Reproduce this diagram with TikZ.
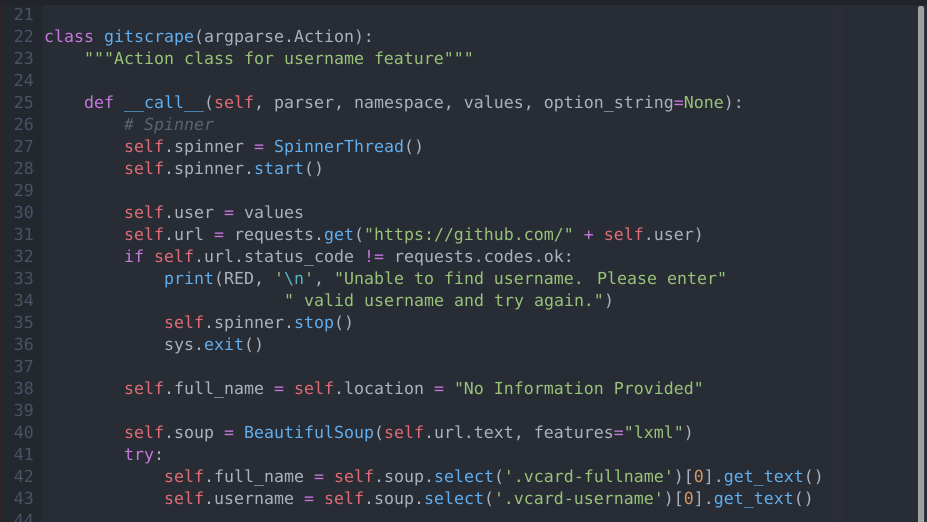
\documentclass[tikz,border=0pt]{standalone}
\usepackage{fontspec}
\newfontfamily\code{DejaVu Sans Mono}
\definecolor{bg}{HTML}{282C34}
\definecolor{gut}{HTML}{23272E}
\definecolor{lnum}{HTML}{4B5263}
\definecolor{fg}{HTML}{ABB2BF}
\definecolor{ckw}{HTML}{C678DD}
\definecolor{cfn}{HTML}{61AFEF}
\definecolor{cstr}{HTML}{98C379}
\definecolor{cself}{HTML}{E06C75}
\definecolor{ccm}{HTML}{5C6370}
\definecolor{cnum}{HTML}{D19A66}
\definecolor{ccy}{HTML}{56B6C2}
\definecolor{cedge}{HTML}{2C2227}
\definecolor{ctop}{HTML}{212429}
\definecolor{cwrap}{HTML}{2D2D38}
\definecolor{cscroll}{HTML}{A0A0A0}
\newcommand\kw[1]{\textcolor{ckw}{#1}}
\newcommand\fn[1]{\textcolor{cfn}{#1}}
\newcommand\st[1]{\textcolor{cstr}{#1}}
\newcommand\sv[1]{\textcolor{cself}{#1}}
\newcommand\op[1]{\textcolor{ckw}{#1}}
\newcommand\nm[1]{\textcolor{cnum}{#1}}
\newcommand\cy[1]{\textcolor{ccy}{#1}}
\newcommand\cx[1]{44+#1*10}
\newcommand\by[1]{20+(#1-21)*22}
\begin{document}
\begin{tikzpicture}[x=1pt,y=-1pt,
  ln/.style={anchor=base east,inner sep=0pt,text=lnum,font=\code\fontsize{16.6}{20}\selectfont},
  cl/.style={anchor=base west,inner sep=0pt,text=fg,font=\code\fontsize{16.6}{20}\selectfont}]
\useasboundingbox (0,0) rectangle (927,522);
\fill[bg] (0,0) rectangle (927,522);
\fill[gut] (0,0) rectangle (42,522);
\fill[cedge] (0,0) rectangle (4,522);
\fill[ctop] (0,0) rectangle (927,5);
\fill[cwrap] (833,5) rectangle (843,522);
\fill[cscroll,rounded corners=2pt] (918,6) rectangle (924,530);
\foreach \n in {21,...,44} {
  \node[ln] (l\n) at (34,{20+(\n-21)*22}) {\n};
}
\node[cl] (c22) at ({\cx{0}},{\by{22}}) {\kw{class} \fn{gitscrape}(argparse.Action):};
\node[cl] (c23) at ({\cx{4}},{\by{23}}) {\st{"""Action class for username feature"""}};
\node[cl] (c25) at ({\cx{4}},{\by{25}}) {\kw{def} \fn{\_\_call\_\_}(\sv{self}, parser, namespace, values, option\_string\op{=}\st{None}):};
\node[cl] (c26) at ({\cx{8}},{\by{26}}) {\textcolor{ccm}{\itshape\# Spinner}};
\node[cl] (c27) at ({\cx{8}},{\by{27}}) {\sv{self}.spinner \op{=} \fn{SpinnerThread}()};
\node[cl] (c28) at ({\cx{8}},{\by{28}}) {\sv{self}.spinner.\fn{start}()};
\node[cl] (c30) at ({\cx{8}},{\by{30}}) {\sv{self}.user \op{=} values};
\node[cl] (c31) at ({\cx{8}},{\by{31}}) {\sv{self}.url \op{=} requests.\fn{get}(\st{"https://github.com/"} \op{+} \sv{self}.user)};
\node[cl] (c32) at ({\cx{8}},{\by{32}}) {\kw{if} \sv{self}.url.status\_code \op{!=} requests.codes.ok:};
\node[cl] (c33) at ({\cx{12}},{\by{33}}) {\fn{print}(RED, \st{'}\cy{\textbackslash n}\st{'}, \st{"Unable to find username. Please enter"}};
\node[cl] (c34) at ({\cx{24}},{\by{34}}) {\st{" valid username and try again."})};
\node[cl] (c35) at ({\cx{12}},{\by{35}}) {\sv{self}.spinner.\fn{stop}()};
\node[cl] (c36) at ({\cx{12}},{\by{36}}) {sys.\fn{exit}()};
\node[cl] (c38) at ({\cx{8}},{\by{38}}) {\sv{self}.full\_name \op{=} \sv{self}.location \op{=} \st{"No Information Provided"}};
\node[cl] (c40) at ({\cx{8}},{\by{40}}) {\sv{self}.soup \op{=} \fn{BeautifulSoup}(\sv{self}.url.text, features\op{=}\st{"lxml"})};
\node[cl] (c41) at ({\cx{8}},{\by{41}}) {\kw{try}:};
\node[cl] (c42) at ({\cx{12}},{\by{42}}) {\sv{self}.full\_name \op{=} \sv{self}.soup.\fn{select}(\st{'.vcard-fullname'})[\nm{0}].\fn{get\_text}()};
\node[cl] (c43) at ({\cx{12}},{\by{43}}) {\sv{self}.username \op{=} \sv{self}.soup.\fn{select}(\st{'.vcard-username'})[\nm{0}].\fn{get\_text}()};
\end{tikzpicture}
\end{document}
